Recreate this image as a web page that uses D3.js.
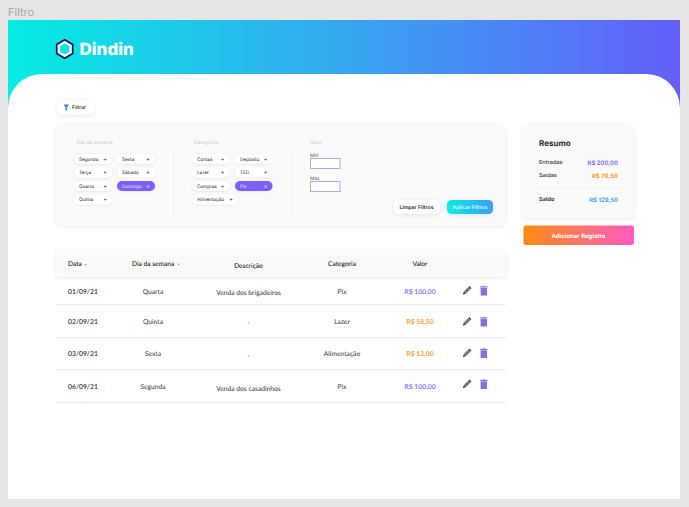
<!DOCTYPE html>
<html>
<head>
<meta charset="utf-8">
<script src="https://cdn.jsdelivr.net/npm/d3@7"></script>
<style>
  html,body{margin:0;padding:0;background:#e5e5e5;overflow:hidden}
  text{font-family:"Lato",sans-serif;text-rendering:geometricPrecision}
  .ui{font-family:"Inter",sans-serif}
</style>
</head>
<body>
<svg id="chart" width="689" height="507"></svg>
<script>
// data
const weekdays1=["Segunda","Terça","Quarta","Quinta"]
const weekdays2=["Sexta","Sábado","Domingo"]
const categories1=["Contas","Lazer","Compras","Alimentação"]
const categories2=["Depósito","TED","Pix"]
const activeChips=["Domingo","Pix"]
const dates=["01/09/21","02/09/21","03/09/21","06/09/21"]
const rowDays=["Quarta","Quinta","Sexta","Segunda"]
const descriptions=["Venda dos brigadeiros","-","-","Venda dos casadinhos"]
const rowCategories=["Pix","Lazer","Alimentação","Pix"]
const rowValues=[100,-58.5,-12,100]
const summaryLabels=["Entradas","Saídas","Saldo"]
const summaryValues=[200,-70.5,129.5]

const purple="#7b61ff", orange="#fa8c10", blue="#3a9ff1"
const money=v=>"R$ "+Math.abs(v).toFixed(2).replace(".",",")

const svg=d3.select("#chart")
const defs=svg.append("defs")

function gradient(id,from,to){
  const g=defs.append("linearGradient").attr("id",id)
  g.append("stop").attr("offset","0%").attr("stop-color",from)
  g.append("stop").attr("offset","100%").attr("stop-color",to)
}
gradient("head","#05ede3","#645ffb")
gradient("apply","#05ede3","#3a9ff1")
gradient("add","#fa8c10","#ff5cc0")

function shadow(id,dy,blur,op){
  defs.append("filter").attr("id",id).attr("x","-30%").attr("y","-30%").attr("width","160%").attr("height","170%")
    .append("feDropShadow").attr("dx",0).attr("dy",dy).attr("stdDeviation",blur)
    .attr("flood-color","#000").attr("flood-opacity",op)
}
shadow("soft",1,2,0.09)
shadow("chip",0.5,1.2,0.1)

function label(g,x,y,txt,o={}){
  return g.append("text").attr("x",x).attr("y",y).attr("dy","0.35em")
    .attr("text-anchor",o.anchor||"start")
    .attr("class",o.ui===false?null:"ui")
    .attr("font-size",o.size||5)
    .attr("font-weight",o.weight||400)
    .attr("fill",o.fill||"#222")
    .text(txt)
}
function box(g,x,y,w,h,r,fill,filter){
  const b=g.append("rect").attr("x",x).attr("y",y).attr("width",w).attr("height",h).attr("rx",r).attr("fill",fill)
  if(filter) b.attr("filter",`url(#${filter})`)
  return b
}

// frame
svg.append("text").attr("x",8).attr("y",12).attr("dy","0.35em").attr("font-size",11).attr("fill","#a8a8a8").attr("class","ui").text("Filtro")
svg.append("rect").attr("x",8).attr("y",20).attr("width",672).attr("height",100).attr("fill","url(#head)")
svg.append("path").attr("fill","#fff").attr("d","M8,499V108A34,34 0 0 1 42,74H646A34,34 0 0 1 680,108V499Z")

// logo
const hex=r=>d3.line()(d3.range(6).map(i=>{
  const a=i*Math.PI/3
  return [64.7+r*Math.sin(a),49-r*Math.cos(a)]
}))+"Z"
svg.append("path").attr("d",hex(10.2)).attr("fill","#0f1559")
svg.append("path").attr("d",hex(8.2)).attr("fill","#fff")
svg.append("path").attr("d",hex(5.6)).attr("fill","#12e3e8")
label(svg,79.5,49,"Dindin",{size:17,weight:800,fill:"#fff"})

// filter button
box(svg,57,100,37,14.5,5,"#fff","soft")
svg.append("path").attr("d","M63.5,104.5H69L67,107.3V110.5H65.5V107.3Z").attr("fill","#2f7ee6")
label(svg,72,107.5,"Filtrar",{size:5,weight:500,fill:"#111"})

// filter panel
box(svg,56,125,449,101,6,"#fafafa","soft")
label(svg,76.5,142,"Dia da semana",{size:5.2,fill:"#c8c8c8"})
label(svg,194,142,"Categoria",{size:5.2,fill:"#c8c8c8"})
label(svg,310,142,"Valor",{size:5.2,fill:"#c8c8c8"})

const chipY=d3.scalePoint().domain(d3.range(4)).range([159,199.5])
function chips(names,x,w){
  const g=svg.append("g").selectAll("g").data(names).join("g")
  g.each(function(d,i){
    const c=d3.select(this), on=activeChips.includes(d), y=chipY(i)
    const cw=d==="Alimentação"?46:w
    box(c,x,y-5,cw,10,5,on?purple:"#fff","chip")
    label(c,x+5,y,d,{size:4.6,fill:on?"#e8e2ff":"#222"})
    label(c,x+cw-7,y,on?"×":"+",{size:5.5,fill:on?"#fff":"#222",anchor:"middle"})
  })
}
chips(weekdays1,74,38)
chips(weekdays2,117,38)
chips(categories1,192,37.5)
chips(categories2,235,37.5)

svg.selectAll(".sep").data([173.5,291.5]).join("line").attr("class","sep")
  .attr("x1",d=>d).attr("x2",d=>d).attr("y1",151).attr("y2",216)
  .attr("stroke","#eeeeee").attr("stroke-width",0.8)

label(svg,310,155.3,"Min",{size:4.8,fill:"#555"})
label(svg,310,178.3,"Max",{size:4.8,fill:"#555"})
svg.selectAll(".inp").data([158.5,181.5]).join("rect").attr("class","inp")
  .attr("x",310.5).attr("y",d=>d).attr("width",29.5).attr("height",10)
  .attr("fill","#fff").attr("stroke","#b3a5fb").attr("stroke-width",1)

box(svg,393.5,200,46,14,4.5,"#fff","soft")
label(svg,416.5,207,"Limpar Filtros",{size:5.2,weight:600,anchor:"middle",fill:"#2a2a2a"})
box(svg,447,200,46,14,4.5,"url(#apply)","soft")
label(svg,470,207,"Aplicar Filtros",{size:5.2,weight:600,anchor:"middle",fill:"#dff9ff"})

// resumo
box(svg,523,125,111,93,6,"#fafafa","soft")
label(svg,539,143.5,"Resumo",{size:8,weight:700,fill:"#2a2a2a"})
const sumY=d3.scaleOrdinal().domain(summaryLabels).range([162.5,175.5,199])
const sumColors=[purple,orange,"#2f9cf5"]
summaryLabels.forEach((name,i)=>{
  label(svg,539,sumY(name),name,{size:5.6,weight:i==2?700:500,fill:"#333"})
  label(svg,618,sumY(name)+0.5,money(summaryValues[i]),{size:6,weight:600,anchor:"end",fill:sumColors[i]})
})
svg.append("line").attr("x1",535).attr("x2",622).attr("y1",187.5).attr("y2",187.5).attr("stroke","#ececec").attr("stroke-width",0.8)

box(svg,523.5,225.5,110.5,19.5,2.5,"url(#add)")
label(svg,578.5,235.5,"Adicionar Registro",{size:6,weight:700,anchor:"middle",fill:"#fff"})

// table
box(svg,56,250,450,27,4,"#fafafa","soft")
const headerCols=[
  {t:"Data",x:68,y:264,a:"start"},
  {t:"Dia da semana",x:132,y:264,a:"start"},
  {t:"Descrição",x:248.5,y:265.5,a:"middle"},
  {t:"Categoria",x:342,y:264,a:"middle"},
  {t:"Valor",x:420,y:264,a:"middle"}]
headerCols.forEach(c=>label(svg,c.x,c.y,c.t,{size:6.6,anchor:c.a,ui:false,weight:500,fill:"#111"}))
const arrow=(x,y,up)=>svg.append("path").attr("fill",blue)
  .attr("d",up?`M${x-1.3},${y+0.8}H${x+1.3}L${x},${y-0.8}Z`:`M${x-1.3},${y-0.8}H${x+1.3}L${x},${y+0.8}Z`)
arrow(85.5,264.5,true)
arrow(178.5,264.5,false)

const rowY=d3.scaleOrdinal().domain(dates).range([291.5,321.5,354,386.5])
const iconY=d3.scaleOrdinal().domain(dates).range([291,322,353.5,384.5])
const lineY=d3.scaleOrdinal().domain(dates).range([304.8,337.5,369.8,402.5])
const descShift=[1.3,1.5,1.5,1.8]
const rows=svg.append("g").selectAll("g").data(dates).join("g")
rows.each(function(d,i){
  const r=d3.select(this), y=rowY(d), iy=iconY(d)
  label(r,68,y,d,{size:6.8,ui:false,weight:500,fill:"#222"})
  label(r,153,y,rowDays[i],{size:6.7,ui:false,anchor:"middle",fill:"#333"})
  label(r,248.5,y+descShift[i],descriptions[i],{size:6.7,ui:false,anchor:"middle",fill:"#333"})
  label(r,342,y,rowCategories[i],{size:6.7,ui:false,anchor:"middle",fill:"#333"})
  label(r,420,y,money(rowValues[i]),{size:6.8,ui:false,weight:700,anchor:"middle",fill:rowValues[i]>0?"#8f7bff":"#fb9f3a"})
  r.append("line").attr("x1",56).attr("x2",506).attr("y1",lineY(d)).attr("y2",lineY(d)).attr("stroke","#e9e9e9").attr("stroke-width",0.9)
  // pencil
  const p=r.append("g").attr("transform",`translate(466.5,${iy}) rotate(45)`)
  p.append("rect").attr("x",-1.5).attr("y",-4).attr("width",3).attr("height",6).attr("fill","#777")
  p.append("rect").attr("x",-1.5).attr("y",-5.4).attr("width",3).attr("height",1.1).attr("fill","#222")
  p.append("path").attr("d","M-1.5,2.2H1.5L0,5.2Z").attr("fill","#333")
  // trash
  const t=r.append("g").attr("transform",`translate(483.8,${iy})`)
  t.append("rect").attr("x",-3.2).attr("y",-3.3).attr("width",6.4).attr("height",7.8).attr("rx",0.5).attr("fill","#8a6fd6")
  t.append("rect").attr("x",-3.8).attr("y",-4.6).attr("width",7.6).attr("height",1).attr("fill","#8a6fd6")
  t.append("rect").attr("x",-1.2).attr("y",-5.2).attr("width",2.4).attr("height",0.8).attr("fill","#8a6fd6")
})
</script>
</body>
</html>
